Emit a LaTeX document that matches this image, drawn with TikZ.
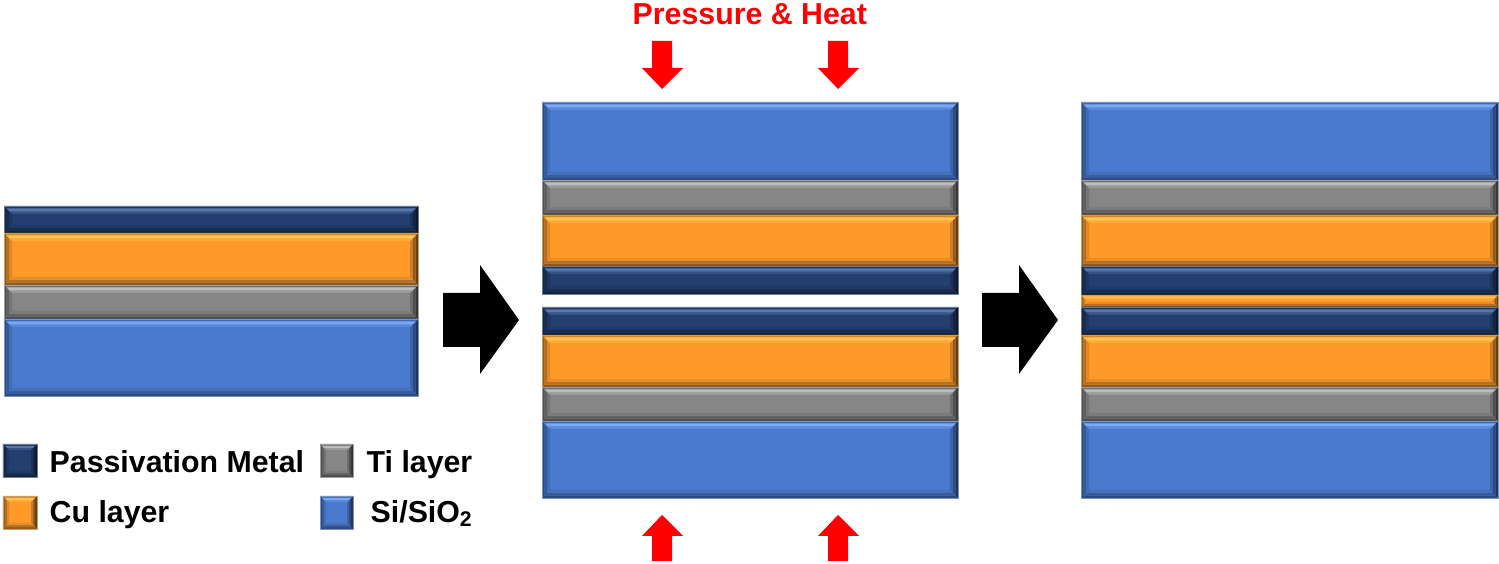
\documentclass[tikz,border=0pt]{standalone}
\usepackage{fontspec}
\setmainfont{Liberation Sans}
\usepackage{tikz}
\definecolor{navymid}{HTML}{223F70}
\definecolor{navylite}{HTML}{5878AA}
\definecolor{navydark}{HTML}{14233F}
\definecolor{cumid}{HTML}{FF9A28}
\definecolor{culite}{HTML}{FFC552}
\definecolor{cudark}{HTML}{8F5A20}
\definecolor{timid}{HTML}{868686}
\definecolor{tilite}{HTML}{BCBCBC}
\definecolor{tidark}{HTML}{4E4E4E}
\definecolor{simid}{HTML}{4A7ACD}
\definecolor{silite}{HTML}{7AA8F4}
\definecolor{sidark}{HTML}{2C4A80}
\tikzset{
  labeltext/.style={font=\fontsize{8.62}{10}\selectfont\bfseries,anchor=base west,inner sep=0pt},
  pressarrow/.style={fill=red},
  steparrow/.style={fill=black}
}
\newcommand{\layerbar}[6][8]{%
  \fill[#6mid] (#2,#3) rectangle (#4,#5);
  \foreach \p/\q/\cc in {0/.3/#6dark,.3/.65/#6dark!70!#6mid,.65/1/#6dark!30!#6mid} {
    \fill[\cc] ({#2+\p*#1},{#3+\p*#1}) -- ({#2+\q*#1},{#3+\q*#1}) -- ({#2+\q*#1},{#5-\q*#1}) -- ({#2+\p*#1},{#5-\p*#1}) -- cycle;
  }
  \foreach \p/\q/\cc in {0/.3/#6dark!70!black,.3/.65/#6dark,.65/1/#6dark!45!#6mid} {
    \fill[\cc] ({#4-\p*#1},{#3+\p*#1}) -- ({#4-\q*#1},{#3+\q*#1}) -- ({#4-\q*#1},{#5-\q*#1}) -- ({#4-\p*#1},{#5-\p*#1}) -- cycle;
  }
  \foreach \p/\q/\cc in {0/.3/#6dark!35!#6mid,.3/.7/#6lite,.7/1/#6lite!35!#6mid} {
    \fill[\cc] ({#2+\p*#1},{#3+\p*#1}) -- ({#4-\p*#1},{#3+\p*#1}) -- ({#4-\q*#1},{#3+\q*#1}) -- ({#2+\q*#1},{#3+\q*#1}) -- cycle;
  }
  \foreach \p/\q/\cc in {0/.3/#6dark,.3/.65/#6dark!65!#6mid,.65/1/#6dark!20!#6mid} {
    \fill[\cc] ({#2+\p*#1},{#5-\p*#1}) -- ({#4-\p*#1},{#5-\p*#1}) -- ({#4-\q*#1},{#5-\q*#1}) -- ({#2+\q*#1},{#5-\q*#1}) -- cycle;
  }
  \draw[#6lite!50!gray,line width=0.2pt] (#2,#3) rectangle (#4,#5);
}
\begin{document}
\begin{tikzpicture}[x=0.01cm,y=-0.01cm]
\useasboundingbox (0,0) rectangle (1499,564);
\layerbar{4}{206}{418}{233}{navy}
\layerbar{4}{233}{418}{285}{cu}
\layerbar{4}{285}{418}{319}{ti}
\layerbar{4}{319}{418}{396}{si}
\layerbar{542}{102}{958}{180}{si}
\layerbar{542}{180}{958}{215}{ti}
\layerbar{542}{215}{958}{266}{cu}
\layerbar{542}{266}{958}{294}{navy}
\layerbar{542}{307}{958}{335}{navy}
\layerbar{542}{335}{958}{387}{cu}
\layerbar{542}{387}{958}{421}{ti}
\layerbar{542}{421}{958}{498}{si}
\layerbar{1081}{102}{1498}{180}{si}
\layerbar{1081}{180}{1498}{215}{ti}
\layerbar{1081}{215}{1498}{266}{cu}
\layerbar{1081}{266}{1498}{295}{navy}
\layerbar[5]{1081}{295}{1498}{307}{cu}
\layerbar{1081}{307}{1498}{335}{navy}
\layerbar{1081}{335}{1498}{387}{cu}
\layerbar{1081}{387}{1498}{421}{ti}
\layerbar{1081}{421}{1498}{498}{si}
\fill[steparrow] (443,293) -- (480,293) -- (480,265) -- (519,320) -- (480,374) -- (480,347) -- (443,347) -- cycle;
\fill[steparrow] (982,293) -- (1019,293) -- (1019,265) -- (1058,320) -- (1019,374) -- (1019,347) -- (982,347) -- cycle;
\fill[pressarrow] (652,41) -- (672,41) -- (672,68) -- (683,68) -- (662,89) -- (642,68) -- (652,68) -- cycle;
\fill[pressarrow] (828,41) -- (848,41) -- (848,68) -- (859,68) -- (838,89) -- (818,68) -- (828,68) -- cycle;
\fill[pressarrow] (652,561) -- (672,561) -- (672,536) -- (683,536) -- (662,515) -- (642,536) -- (652,536) -- cycle;
\fill[pressarrow] (828,561) -- (848,561) -- (848,536) -- (859,536) -- (838,515) -- (818,536) -- (828,536) -- cycle;
\node[labeltext,text=red] (pressheat) at (632,25) {Pressure \& Heat};
\layerbar[6]{3}{444}{37}{477}{navy}
\layerbar[6]{3}{496}{37}{529}{cu}
\layerbar[6]{320}{444}{353}{477}{ti}
\layerbar[6]{320}{496}{353}{529}{si}
\node[labeltext] (passlabel) at (49,472) {Passivation Metal};
\node[labeltext] (culabel) at (49,523) {Cu layer};
\node[labeltext] (tilabel) at (366,472) {Ti layer};
\node[labeltext] (silabel) at (370,523) {Si/SiO\textsubscript{2}};
\end{tikzpicture}
\end{document}
